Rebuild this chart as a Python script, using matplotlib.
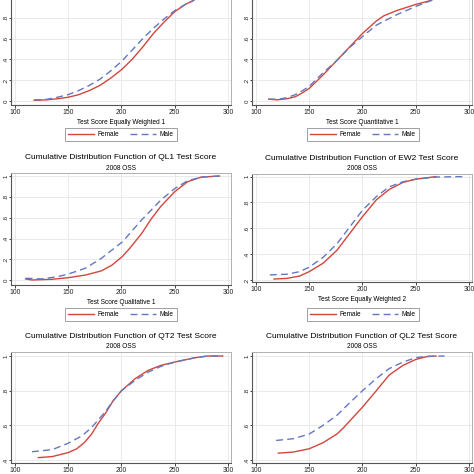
"""Cumulative distribution of test scores by gender, 2008 OSS (3x2 panel)."""

import matplotlib

matplotlib.use("Agg")
import matplotlib.pyplot as plt

plt.rcParams["font.family"] = ["Liberation Sans", "DejaVu Sans"]

FEMALE = "#d2463c"
MALE = "#6478c0"

# --- data (score, cumulative share) ---
ew1_f_x = [118, 130, 140, 150, 160, 170, 180, 190, 200, 210, 220, 230, 240, 250, 260, 268]
ew1_f_y = [0.005, 0.01, 0.02, 0.035, 0.06, 0.10, 0.15, 0.22, 0.30, 0.40, 0.52, 0.65, 0.76, 0.86, 0.93, 0.97]
ew1_m_x = [118, 130, 140, 150, 160, 170, 180, 190, 200, 210, 220, 230, 240, 250, 260, 268]
ew1_m_y = [0.008, 0.015, 0.035, 0.06, 0.10, 0.15, 0.21, 0.29, 0.38, 0.49, 0.60, 0.70, 0.79, 0.87, 0.93, 0.97]

qt1_f_x = [112, 120, 129, 137, 144, 150, 163, 176, 188, 200, 213, 220, 232, 250, 265]
qt1_f_y = [0.016, 0.01, 0.02, 0.04, 0.08, 0.12, 0.25, 0.39, 0.52, 0.65, 0.77, 0.82, 0.87, 0.93, 0.97]
qt1_m_x = [112, 120, 129, 137, 144, 150, 163, 176, 188, 200, 213, 232, 250, 265]
qt1_m_y = [0.016, 0.015, 0.03, 0.06, 0.10, 0.14, 0.27, 0.39, 0.515, 0.62, 0.73, 0.83, 0.91, 0.97]

ql1_f_x = [110, 116, 135, 150, 166, 181, 191, 201, 208, 219, 228, 237, 250, 262, 275, 292]
ql1_f_y = [0.013, 0.003, 0.01, 0.025, 0.05, 0.09, 0.145, 0.23, 0.31, 0.45, 0.59, 0.71, 0.85, 0.945, 0.99, 1.0]
ql1_m_x = [110, 125, 140, 150, 166, 181, 201, 219, 237, 250, 262, 275, 292]
ql1_m_y = [0.02, 0.013, 0.035, 0.06, 0.115, 0.21, 0.37, 0.58, 0.77, 0.88, 0.955, 0.99, 1.0]

ew2_f_x = [117, 129, 141, 150, 163, 176, 188, 200, 213, 225, 238, 250, 269]
ew2_f_y = [0.208, 0.213, 0.231, 0.265, 0.33, 0.43, 0.56, 0.69, 0.82, 0.90, 0.955, 0.98, 1.0]
ew2_m_x = [113, 129, 141, 150, 163, 176, 188, 200, 213, 225, 238, 250, 270, 297]
ew2_m_y = [0.24, 0.245, 0.265, 0.30, 0.375, 0.48, 0.61, 0.74, 0.845, 0.92, 0.96, 0.98, 0.997, 1.0]

qt2_f_x = [122, 135, 150, 158, 165, 172, 178, 185, 192, 200, 213, 225, 237, 250, 269, 281, 295]
qt2_f_y = [0.414, 0.42, 0.443, 0.465, 0.50, 0.55, 0.61, 0.67, 0.74, 0.80, 0.87, 0.917, 0.946, 0.965, 0.99, 1.0, 1.0]
qt2_m_x = [116, 135, 150, 163, 172, 178, 185, 192, 200, 213, 225, 237, 250, 269, 281, 295]
qt2_m_y = [0.448, 0.46, 0.497, 0.54, 0.588, 0.63, 0.68, 0.74, 0.80, 0.86, 0.907, 0.94, 0.965, 0.99, 1.0, 1.0]

ql2_f_x = [121, 135, 150, 163, 176, 182, 188, 200, 213, 225, 238, 250, 260, 269]
ql2_f_y = [0.44, 0.446, 0.465, 0.50, 0.55, 0.585, 0.625, 0.705, 0.80, 0.89, 0.946, 0.98, 0.996, 1.0]
ql2_m_x = [119, 135, 150, 163, 176, 188, 200, 213, 225, 238, 250, 260, 277]
ql2_m_y = [0.513, 0.523, 0.55, 0.60, 0.658, 0.73, 0.80, 0.87, 0.927, 0.965, 0.99, 0.998, 1.0]

x_ticks = [100, 150, 200, 250, 300]
y_labels = {0: "0", 0.2: ".2", 0.4: ".4", 0.6: ".6", 0.8: ".8", 1: "1"}

W = 474.0


def px_box(left, top, right, bottom):
    return [left / W, 1 - bottom / W, (right - left) / W, (bottom - top) / W]


def panel(fig, box, fx, fy, mx, my, ylim, yticks, title=None, xlabel=None, legend_at=None):
    ax = fig.add_axes(box)
    ax.plot(fx, fy, color=FEMALE, lw=1.0, label="Female")
    ax.plot(mx, my, color=MALE, lw=1.0, ls=(0, (5, 3)), label="Male")
    ax.set_xlim(96.3, 302.8)
    ax.set_ylim(*ylim)
    ax.set_xticks(x_ticks)
    ax.set_yticks(yticks)
    ax.set_yticklabels([y_labels[t] for t in yticks], rotation=90, va="center")
    ax.tick_params(labelsize=4.9, length=2.2, width=0.6, pad=0.8, colors="#222222")
    ax.tick_params(axis="y", labelsize=4.4, length=1.5, pad=0.3)
    ax.grid(True, color="#e6e6e6", lw=0.6)
    ax.set_axisbelow(True)
    for s in ("top", "right"):
        ax.spines[s].set_color("#b0b0b0")
        ax.spines[s].set_linewidth(0.7)
    for s in ("left", "bottom"):
        ax.spines[s].set_color("#555555")
        ax.spines[s].set_linewidth(0.8)
    if title:
        ax.annotate(title, (0.5, 1), xycoords="axes fraction", xytext=(0, 11.5),
                    textcoords="offset points", ha="center", va="center", fontsize=6.0)
        ax.annotate("2008 OSS", (0.5, 1), xycoords="axes fraction", xytext=(0, 3.6),
                    textcoords="offset points", ha="center", va="center", fontsize=4.7)
    if xlabel:
        ax.set_xlabel(xlabel, fontsize=4.7, labelpad=2.2)
    if legend_at:
        leg = ax.legend(loc="upper center", bbox_to_anchor=legend_at, bbox_transform=fig.transFigure,
                        ncol=2, fontsize=4.7, frameon=True, fancybox=False, handlelength=3.9,
                        columnspacing=1.7, handletextpad=0.6, borderpad=0.45, borderaxespad=0)
        leg.get_frame().set_edgecolor("#888888")
        leg.get_frame().set_linewidth(0.7)
    return ax


fig = plt.figure(figsize=(4.74, 4.74), dpi=100)
fig.patch.set_facecolor("white")

top_ticks = [0, 0.2, 0.4, 0.6, 0.8]
full_ticks = [0, 0.2, 0.4, 0.6, 0.8, 1]

panel(fig, px_box(11, -7, 231, 105), ew1_f_x, ew1_f_y, ew1_m_x, ew1_m_y, (-0.04, 1.04), top_ticks,
      xlabel="Test Score Equally Weighted 1", legend_at=(121 / W, 1 - 128 / W))
panel(fig, px_box(252, -7, 472, 105), qt1_f_x, qt1_f_y, qt1_m_x, qt1_m_y, (-0.04, 1.04), top_ticks,
      xlabel="Test Score Quantitative 1", legend_at=(363 / W, 1 - 128 / W))
panel(fig, px_box(11, 173, 231, 285), ql1_f_x, ql1_f_y, ql1_m_x, ql1_m_y, (-0.045, 1.029), full_ticks,
      title="Cumulative Distribution Function of QL1 Test Score",
      xlabel="Test Score Qualitative 1", legend_at=(121 / W, 1 - 308 / W))
panel(fig, px_box(252, 174, 472, 282), ew2_f_x, ew2_f_y, ew2_m_x, ew2_m_y, (0.185, 1.02),
      [0.2, 0.4, 0.6, 0.8, 1],
      title="Cumulative Distribution Function of EW2 Test Score",
      xlabel="Test Score Equally Weighted 2", legend_at=(363 / W, 1 - 308 / W))
panel(fig, px_box(11, 352, 231, 463), qt2_f_x, qt2_f_y, qt2_m_x, qt2_m_y, (0.383, 1.023),
      [0.4, 0.6, 0.8, 1], title="Cumulative Distribution Function of QT2 Test Score")
panel(fig, px_box(252, 352, 472, 463), ql2_f_x, ql2_f_y, ql2_m_x, ql2_m_y, (0.383, 1.023),
      [0.4, 0.6, 0.8, 1], title="Cumulative Distribution Function of QL2 Test Score")

fig.savefig("out.png", dpi=100)
plt.close(fig)
